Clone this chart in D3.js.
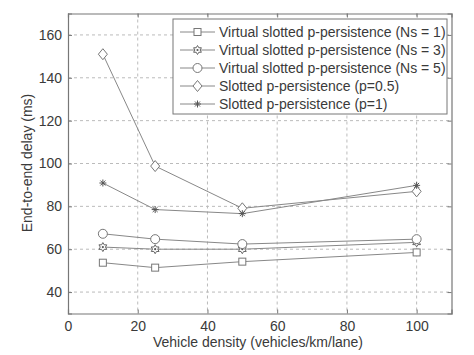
<!DOCTYPE html>
<html><head><meta charset="utf-8">
<script src="https://cdn.jsdelivr.net/npm/d3@7/dist/d3.min.js"></script>
<style>body{margin:0;background:#fff}svg{display:block}</style>
</head><body>
<svg id="c" width="474" height="355"></svg>
<script>
const xValues = [10, 25, 50, 100];
const seriesNames = [
  "Virtual slotted p-persistence (Ns = 1)",
  "Virtual slotted p-persistence (Ns = 3)",
  "Virtual slotted p-persistence (Ns = 5)",
  "Slotted p-persistence (p=0.5)",
  "Slotted p-persistence (p=1)"
];
const ns1 = [53.7, 51.4, 54.2, 58.5];
const ns3 = [61, 60, 60, 63.2];
const ns5 = [67.2, 64.7, 62.4, 64.7];
const p05 = [151, 98.8, 79.1, 87];
const p1 = [90.9, 78.5, 76.6, 89.8];
const markers = ["square", "hexagram", "circle", "diamond", "asterisk"];
const xTicks = [0, 20, 40, 60, 80, 100];
const yTicks = [40, 60, 80, 100, 120, 140, 160];
const xLabel = "Vehicle density (vehicles/km/lane)";
const yLabel = "End-to-end delay (ms)";

const series = [ns1, ns3, ns5, p05, p1];
const svg = d3.select("#c");
const L = 68, R = 451.5, T = 13.5, B = 313.5;
const x = d3.scaleLinear().domain([0, 110]).range([L, R]);
const y = d3.scaleLinear().domain([30, 170]).range([B, T]);
const font = "'Liberation Sans', Arial, sans-serif";
const txt = "#3a3a3a";
const lineC = "#888";

// grid
const g = svg.append("g");
g.selectAll(".gx").data(xTicks.filter(d => d > 0)).join("line")
  .attr("x1", d => x(d)).attr("x2", d => x(d)).attr("y1", T).attr("y2", B)
  .attr("stroke", "#bbb").attr("stroke-dasharray", "3,3").attr("stroke-width", 1);
g.selectAll(".gy").data(yTicks).join("line")
  .attr("y1", d => y(d)).attr("y2", d => y(d)).attr("x1", L).attr("x2", R)
  .attr("stroke", "#bbb").attr("stroke-dasharray", "3,3").attr("stroke-width", 1);

// axes
const ax = svg.append("g").attr("transform", `translate(0,${B})`)
  .call(d3.axisBottom(x).tickValues(xTicks).tickSize(-4).tickPadding(8).tickFormat(d3.format("d")));
const axT = svg.append("g").attr("transform", `translate(0,${T})`)
  .call(d3.axisTop(x).tickValues(xTicks).tickSize(-4).tickFormat(""));
const ay = svg.append("g").attr("transform", `translate(${L},0)`)
  .call(d3.axisLeft(y).tickValues(yTicks).tickSize(-4).tickPadding(6).tickFormat(d3.format("d")));
const ayR = svg.append("g").attr("transform", `translate(${R},0)`)
  .call(d3.axisRight(y).tickValues(yTicks).tickSize(-4).tickFormat(""));
[ax, axT, ay, ayR].forEach(a => {
  a.select(".domain").attr("stroke", "#777").attr("stroke-width", 1.2);
  a.selectAll(".tick line").attr("stroke", "#777");
  a.selectAll("text").attr("fill", txt).attr("font-family", font).attr("font-size", 14);
});

// lines
const line = d3.line().x((d, i) => x(xValues[i])).y(d => y(d));
series.forEach(s => {
  svg.append("path").attr("d", line(s)).attr("fill", "none")
    .attr("stroke", lineC).attr("stroke-width", 1);
});

function drawMarker(sel, type, cx, cy) {
  const sc = "#777";
  if (type === "square") {
    sel.append("rect").attr("x", cx - 3.5).attr("y", cy - 3.5).attr("width", 7).attr("height", 7)
      .attr("fill", "#fff").attr("stroke", sc);
  } else if (type === "circle") {
    sel.append("circle").attr("cx", cx).attr("cy", cy).attr("r", 4.5).attr("fill", "#fff").attr("stroke", sc);
  } else if (type === "diamond") {
    sel.append("path").attr("d", `M${cx},${cy - 5.5}L${cx + 4.5},${cy}L${cx},${cy + 5.5}L${cx - 4.5},${cy}Z`)
      .attr("fill", "#fff").attr("stroke", sc);
  } else if (type === "hexagram") {
    const ro = 4.5, ri = ro / Math.sqrt(3);
    const pts = [];
    for (let k = 0; k < 12; k++) {
      const r = k % 2 === 0 ? ro : ri;
      const a = -Math.PI / 2 + k * Math.PI / 6;
      pts.push([cx + r * Math.cos(a), cy + r * Math.sin(a)]);
    }
    sel.append("path").attr("d", "M" + pts.map(p => p.join(",")).join("L") + "Z")
      .attr("fill", "#fff").attr("stroke", "#666");
    sel.append("circle").attr("cx", cx).attr("cy", cy).attr("r", 1.1).attr("fill", "#555");
  } else if (type === "asterisk") {
    const r = 3.5;
    for (let k = 0; k < 4; k++) {
      const a = k * Math.PI / 4;
      sel.append("line").attr("x1", cx - r * Math.cos(a)).attr("y1", cy - r * Math.sin(a))
        .attr("x2", cx + r * Math.cos(a)).attr("y2", cy + r * Math.sin(a))
        .attr("stroke", "#555").attr("stroke-width", 1);
    }
  }
}
series.forEach((s, si) => {
  const mg = svg.append("g");
  s.forEach((v, i) => drawMarker(mg, markers[si], x(xValues[i]), y(v)));
});

// legend
const lg = svg.append("g");
lg.append("rect").attr("x", 173).attr("y", 19).attr("width", 274).attr("height", 95)
  .attr("fill", "#fff").attr("stroke", "#777").attr("stroke-width", 1);
seriesNames.forEach((n, i) => {
  const yy = 32 + i * 18;
  lg.append("line").attr("x1", 180).attr("x2", 215).attr("y1", yy).attr("y2", yy)
    .attr("stroke", lineC);
  drawMarker(lg, markers[i], 197.5, yy);
  lg.append("text").attr("x", 219).attr("y", yy).attr("dy", "0.35em")
    .attr("font-family", font).attr("font-size", 14).attr("fill", txt).text(n);
});

// axis labels
svg.append("text").attr("x", 258).attr("y", 347).attr("text-anchor", "middle")
  .attr("font-family", font).attr("font-size", 14).attr("fill", txt).text(xLabel);
svg.append("text").attr("transform", "translate(32,163) rotate(-90)").attr("text-anchor", "middle")
  .attr("font-family", font).attr("font-size", 14).attr("fill", txt).text(yLabel);
</script>
</body></html>
